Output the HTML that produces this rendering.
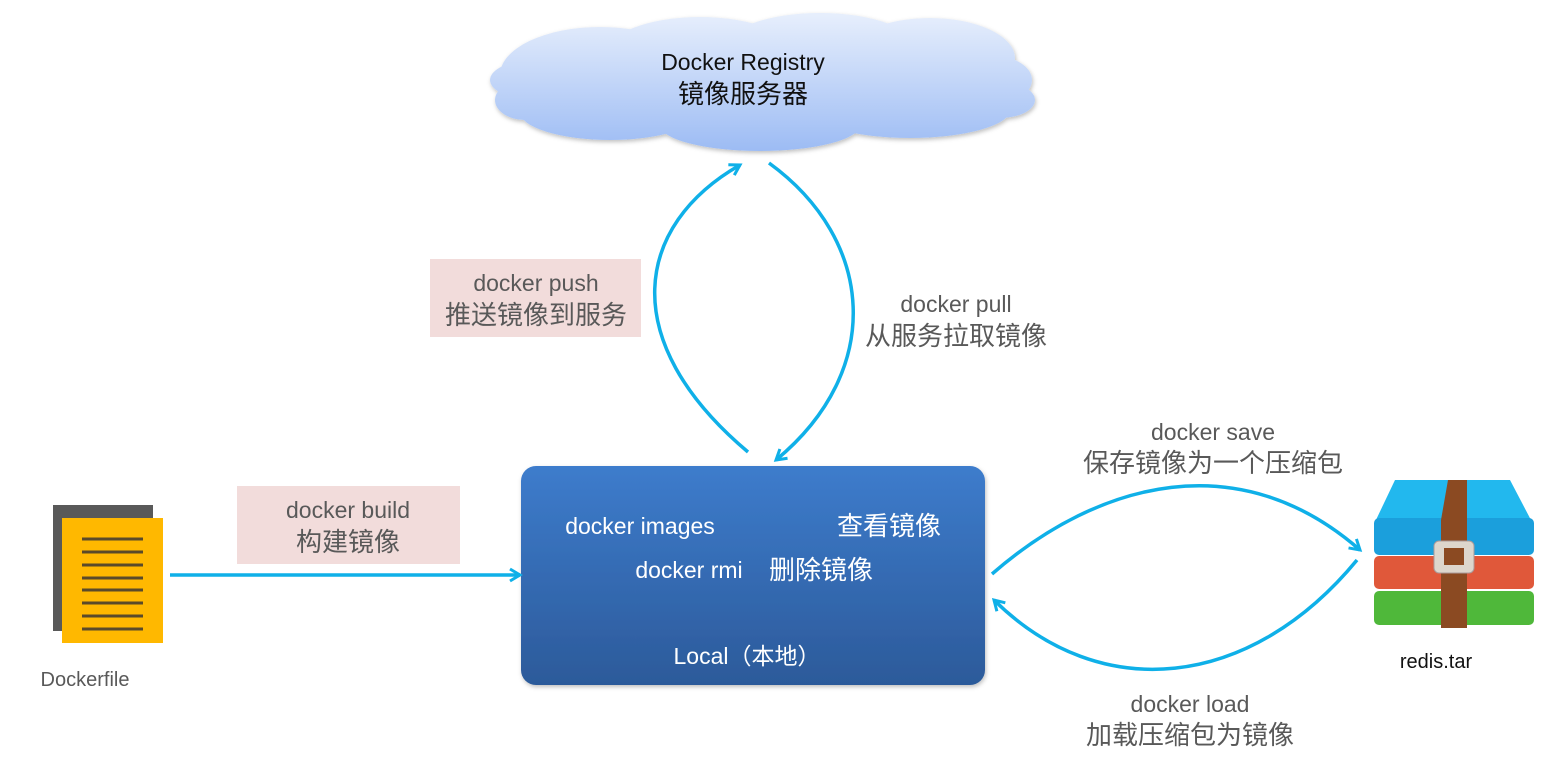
<!DOCTYPE html>
<html><head><meta charset="utf-8"><style>
html,body{margin:0;padding:0;background:#fff;width:1567px;height:770px;overflow:hidden}
svg text{font-family:"Liberation Sans","Noto Sans CJK SC",sans-serif}
</style></head><body>
<svg width="1567" height="770" viewBox="0 0 1567 770" xmlns="http://www.w3.org/2000/svg">
<defs>
<linearGradient id="cg" x1="0" y1="15" x2="0" y2="150" gradientUnits="userSpaceOnUse">
<stop offset="0" stop-color="#e6eefc"/><stop offset="1" stop-color="#9dbcf4"/></linearGradient>
<linearGradient id="bg" x1="0" y1="0" x2="0" y2="1">
<stop offset="0" stop-color="#3d7ccc"/><stop offset="1" stop-color="#2c5a9a"/></linearGradient>
<marker id="ar" markerWidth="16" markerHeight="16" refX="12" refY="8" orient="auto" markerUnits="userSpaceOnUse">
<path d="M2,2 L12,8 L2,14" fill="none" stroke="#0fb0e8" stroke-width="3"/></marker>
<filter id="sh"><feDropShadow dx="1" dy="2" stdDeviation="2" flood-color="#000" flood-opacity="0.25"/></filter>
</defs>
<!-- cloud -->
<g fill="url(#cg)" filter="url(#sh)">
<ellipse cx="600" cy="75" rx="100" ry="48"/>
<ellipse cx="535" cy="80" rx="45" ry="20"/>
<ellipse cx="525" cy="100" rx="30" ry="20"/>
<ellipse cx="700" cy="55" rx="95" ry="38"/>
<ellipse cx="820" cy="48" rx="95" ry="35"/>
<ellipse cx="930" cy="58" rx="85" ry="40"/>
<ellipse cx="990" cy="80" rx="42" ry="25"/>
<ellipse cx="1000" cy="100" rx="35" ry="18"/>
<ellipse cx="760" cy="100" rx="200" ry="38"/>
<ellipse cx="910" cy="110" rx="100" ry="28"/>
<ellipse cx="610" cy="112" rx="90" ry="28"/>
<ellipse cx="760" cy="125" rx="100" ry="26"/>
</g>
<text x="743" y="70" font-size="23" text-anchor="middle" fill="#111">Docker Registry</text>
<text x="743" y="103" font-size="26" text-anchor="middle" fill="#111">镜像服务器</text>
<!-- local box -->
<rect x="521" y="466" width="464" height="219" rx="15" fill="url(#bg)" filter="url(#sh)"/>
<text x="640" y="534" font-size="23" text-anchor="middle" fill="#fff">docker images</text>
<text x="889" y="535" font-size="26" text-anchor="middle" fill="#fff">查看镜像</text>
<text x="689" y="578" font-size="23" text-anchor="middle" fill="#fff">docker rmi</text>
<text x="821" y="579" font-size="26" text-anchor="middle" fill="#fff">删除镜像</text>
<text x="747" y="664" font-size="23" text-anchor="middle" fill="#fff">Local（本地）</text>
<!-- label backgrounds -->
<rect x="430" y="259" width="211" height="78" fill="#f2dcdb"/>
<rect x="237" y="486" width="223" height="78" fill="#f2dcdb"/>
<g fill="#595959" text-anchor="middle">
<text x="536" y="291" font-size="23">docker push</text>
<text x="536" y="324" font-size="26">推送镜像到服务</text>
<text x="348" y="518" font-size="23">docker build</text>
<text x="348" y="551" font-size="26">构建镜像</text>
<text x="956" y="312" font-size="23">docker pull</text>
<text x="956" y="345" font-size="26">从服务拉取镜像</text>
<text x="1213" y="440" font-size="23">docker save</text>
<text x="1213" y="472" font-size="26">保存镜像为一个压缩包</text>
<text x="1190" y="712" font-size="23">docker load</text>
<text x="1190" y="744" font-size="26">加载压缩包为镜像</text>
<text x="85" y="686" font-size="20">Dockerfile</text>
</g>
<!-- arrows -->
<g fill="none" stroke="#0fb0e8" stroke-width="3.5">
<path d="M748,452 C615,340 635,225 740,165" marker-end="url(#ar)"/>
<path d="M769,163 C875,240 885,370 776,460" marker-end="url(#ar)"/>
<path d="M170,575 L520,575" marker-end="url(#ar)"/>
<path d="M992,574 C1100,480 1240,445 1360,550" marker-end="url(#ar)"/>
<path d="M1357,560 C1250,690 1100,705 994,600" marker-end="url(#ar)"/>
</g>
<!-- Dockerfile icon -->
<rect x="53" y="505" width="100" height="126" fill="#595959"/>
<rect x="62" y="518" width="101" height="125" fill="#ffb800"/>
<g stroke="#5a4a2a" stroke-width="3">
<line x1="82" y1="539" x2="143" y2="539"/><line x1="82" y1="552" x2="143" y2="552"/>
<line x1="82" y1="565" x2="143" y2="565"/><line x1="82" y1="578" x2="143" y2="578"/>
<line x1="82" y1="590" x2="143" y2="590"/><line x1="82" y1="603" x2="143" y2="603"/>
<line x1="82" y1="616" x2="143" y2="616"/><line x1="82" y1="629" x2="143" y2="629"/>
</g>
<!-- redis.tar icon -->
<path d="M1395,480 L1510,480 L1532,522 L1375,522 Z" fill="#22b8ee"/>
<rect x="1374" y="518" width="160" height="37" rx="5" fill="#1b9fdc"/>
<rect x="1374" y="556" width="160" height="33" rx="5" fill="#e0583a"/>
<rect x="1374" y="591" width="160" height="34" rx="5" fill="#4fb83a"/>
<path d="M1448,480 L1467,480 L1467,628 L1441,628 L1441,520 Z" fill="#8b4a22"/>
<rect x="1434" y="541" width="40" height="32" rx="5" fill="#ddd6cc" stroke="#a99" stroke-width="1"/>
<rect x="1444" y="548" width="20" height="17" fill="#8b4a22"/>
<text x="1436" y="668" font-size="20" text-anchor="middle" fill="#111">redis.tar</text>
</svg>
</body></html>
